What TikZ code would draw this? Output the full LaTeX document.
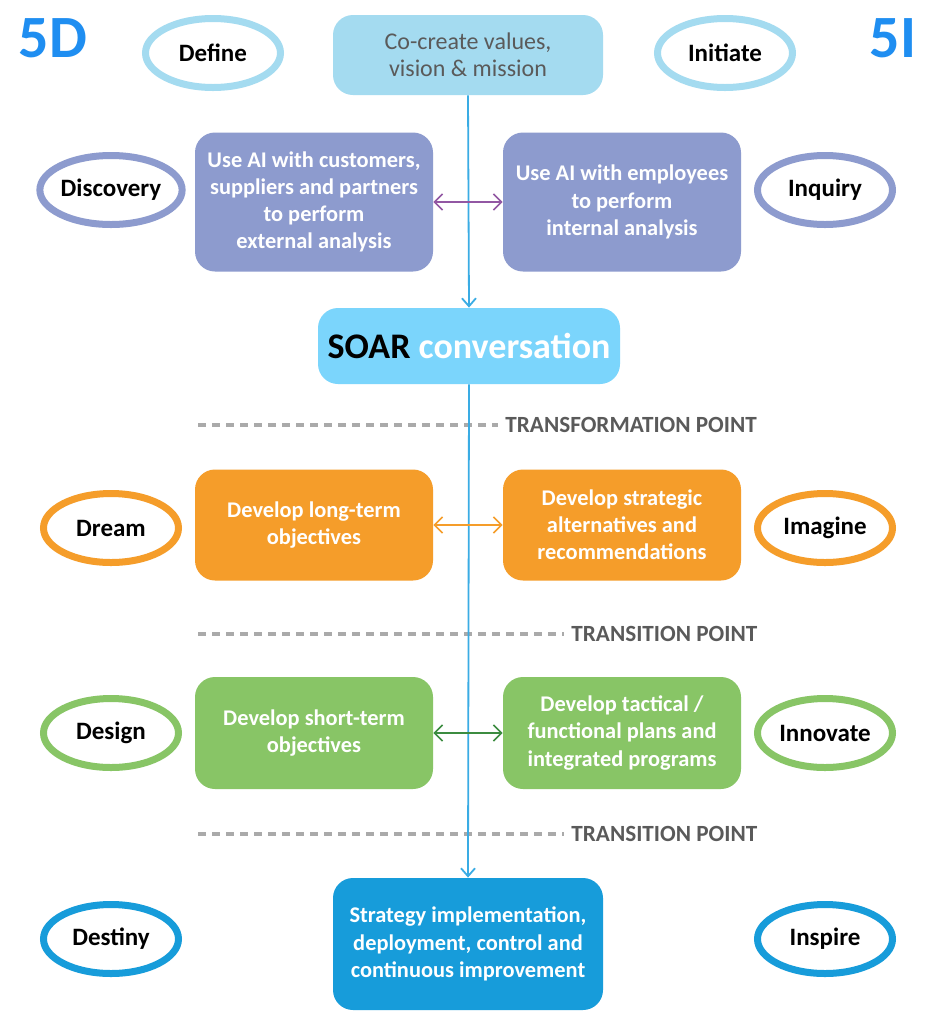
\documentclass[tikz,border=0pt]{standalone}
\usepackage{fontspec}
\setmainfont{Carlito}
\usetikzlibrary{shapes.geometric,arrows.meta}
\definecolor{cTop}{HTML}{A4DBF0}
\definecolor{cPur}{HTML}{8D9BCE}
\definecolor{cPurA}{HTML}{9257A3}
\definecolor{cSoar}{HTML}{7BD5FC}
\definecolor{cOra}{HTML}{F59D2A}
\definecolor{cGre}{HTML}{88C566}
\definecolor{cGreA}{HTML}{3C8C40}
\definecolor{cBot}{HTML}{179CDA}
\definecolor{cLine}{HTML}{3AACE4}
\definecolor{cFive}{HTML}{1F8EF1}
\definecolor{cDash}{HTML}{AAAAAA}
\definecolor{cTxt}{HTML}{5A5A5A}
\begin{document}
\begin{tikzpicture}[x=0.5pt,y=-0.5pt,
  box/.style={rounded corners=10pt, minimum width=119pt, align=center, text=white,
    font=\bfseries\fontsize{11.2}{13.6}\selectfont, inner sep=0pt},
  lbl/.style={ellipse, draw=#1, line width=3.5pt, fill=white, minimum width=67.5pt,
    minimum height=34.5pt, inner sep=0pt, font=\bfseries\fontsize{12.5}{14}\selectfont},
  five/.style={text=cFive, font=\bfseries\fontsize{30}{30}\selectfont},
  vline/.style={draw=cLine, line width=0.9pt, -{Straight Barb[length=4pt,width=7pt]}},
  dbl/.style={line width=0.8pt, {Straight Barb[length=4pt,width=8pt]}-{Straight Barb[length=4pt,width=8pt]}},
  dashln/.style={draw=cDash, line width=2pt, dash pattern=on 4pt off 3pt},
  ptlbl/.style={anchor=west, text=cTxt, inner sep=0pt, font=\bfseries\fontsize{11.6}{12}\selectfont}
]
\useasboundingbox (0,0) rectangle (934,1024);
\fill[white] (0,0) rectangle (934,1024);

% 5D / 5I
\node[five] (fiveD) at (53,38) {5D};
\node[five] (fiveI) at (893,38) {5I};

% top row
\node[box, fill=cTop, text=cTxt, font=\fontsize{12}{13.6}\selectfont, minimum width=135pt, minimum height=40pt] (top) at (468,55) {Co-create values,\\vision \& mission};
\node[lbl=cTop] (define) at (213,53) {Define};
\node[lbl=cTop] (initiate) at (725,53) {Initiate};

% purple row
\node[box, fill=cPur, minimum height=69.5pt] (pl) at (314,202) {Use AI with customers,\\suppliers and partners\\to perform\\external analysis};
\node[box, fill=cPur, minimum height=69.5pt] (pr) at (622,202) {Use AI with employees\\to perform\\internal analysis};
\node[lbl=cPur] (discovery) at (111,190) {Discovery};
\node[lbl=cPur] (inquiry) at (825,190) {Inquiry};

% SOAR
\node[box, fill=cSoar, minimum width=151pt, minimum height=38pt, font=\bfseries\fontsize{18}{20}\selectfont] (soar) at (469,346) {\textcolor{black}{SOAR} conversation};

% orange row
\node[box, fill=cOra, minimum height=55.5pt] (ol) at (314,525) {Develop long-term\\objectives};
\node[box, fill=cOra, minimum height=55.5pt] (or) at (622,525) {Develop strategic\\alternatives and\\recommendations};
\node[lbl=cOra] (dream) at (111,528) {Dream};
\node[lbl=cOra] (imagine) at (825,528) {Imagine};

% green row
\node[box, fill=cGre, minimum height=56pt] (gl) at (314,733) {Develop short-term\\objectives};
\node[box, fill=cGre, minimum height=56pt] (gr) at (622,733) {Develop tactical /\\functional plans and\\integrated programs};
\node[lbl=cGre] (design) at (111,733) {Design};
\node[lbl=cGre] (innovate) at (825,733) {Innovate};

% bottom
\node[box, fill=cBot, minimum width=135pt, minimum height=66pt] (bot) at (468,944) {Strategy implementation,\\deployment, control and\\continuous improvement};
\node[lbl=cBot] (destiny) at (111,939) {Destiny};
\node[lbl=cBot] (inspire) at (825,939) {Inspire};

% dashed point lines
\draw[dashln] (198,425) -- (498,425);
\node[ptlbl] (tp) at (505,425) {TRANSFORMATION POINT};
\draw[dashln] (198,634) -- (564,634);
\node[ptlbl] (tr1) at (571,634) {TRANSITION POINT};
\draw[dashln] (198,834) -- (564,834);
\node[ptlbl] (tr2) at (571,834) {TRANSITION POINT};

% connectors
\draw[vline] (top.south) -- (soar.north);
\draw[vline] (soar.south) -- (bot.north);
\draw[dbl, draw=cPurA] (pl.east) -- (pr.west);
\draw[dbl, draw=cOra] (ol.east) -- (or.west);
\draw[dbl, draw=cGreA] (gl.east) -- (gr.west);
\end{tikzpicture}
\end{document}
